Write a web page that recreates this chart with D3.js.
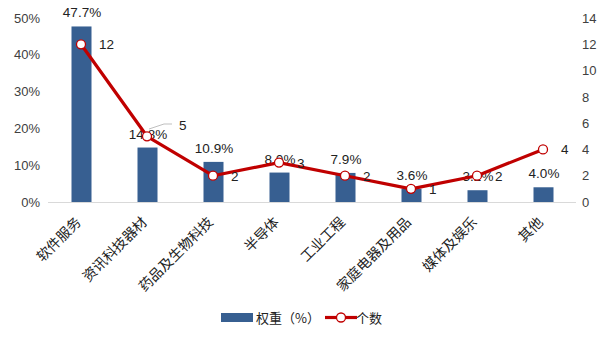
<!DOCTYPE html>
<html><head><meta charset="utf-8">
<script src="https://cdn.jsdelivr.net/npm/d3@7"></script>
<style>body{margin:0;background:#fff}svg{display:block}text{font-family:"Noto Sans CJK SC","Liberation Sans",sans-serif}</style>
</head><body><svg id="c" width="611" height="342"></svg>
<script>
const categories = ["软件服务","资讯科技器材","药品及生物科技","半导体","工业工程","家庭电器及用品","媒体及娱乐","其他"];
const weights = [47.7,14.8,10.9,8.0,7.9,3.6,3.2,4.0];
const counts = [12,5,2,3,2,1,2,4];
const leftTicks = [0,10,20,30,40,50];
const rightTicks = [0,2,4,6,8,10,12,14];

const svg = d3.select("#c");
const x = d3.scaleBand().domain(categories).range([48,576]).paddingInner(0).paddingOuter(0);
const yL = d3.scaleLinear().domain([0,50]).range([202,18]);
const yR = d3.scaleLinear().domain([0,14]).range([202,18]);
const numFont = "'Liberation Sans',Arial,sans-serif";

// left axis
const gl = svg.append("g").attr("transform","translate(44,0)")
  .call(d3.axisLeft(yL).tickValues(leftTicks).tickFormat(d=>d+"%").tickSize(0).tickPadding(4));
gl.select(".domain").remove();
gl.selectAll("text").attr("font-size",13).attr("fill","#404040").style("font-family",numFont);

const gr = svg.append("g").attr("transform","translate(578,0)")
  .call(d3.axisRight(yR).tickValues(rightTicks).tickSize(0).tickPadding(4));
gr.select(".domain").remove();
gr.selectAll("text").attr("font-size",13).attr("fill","#404040").style("font-family",numFont);

// baseline
svg.append("line").attr("x1",48).attr("x2",576).attr("y1",yL(0)+0.5).attr("y2",yL(0)+0.5).attr("stroke","#d9d9d9");

// bars
const bw = 20;
svg.selectAll("rect.bar").data(weights).join("rect").attr("class","bar")
  .attr("x",(d,i)=>x(categories[i])+x.bandwidth()/2-bw/2+0.5)
  .attr("width",bw).attr("y",d=>yL(d)).attr("height",d=>yL(0)-yL(d))
  .attr("fill","#375F91");

// bar labels
svg.selectAll("text.pl").data(weights).join("text").attr("class","pl")
  .attr("x",(d,i)=>x(categories[i])+x.bandwidth()/2+1)
  .attr("y",d=>yL(d)-9).attr("text-anchor","middle")
  .attr("font-size",13.5).attr("fill","#222").style("font-family",numFont)
  .text(d=>d.toFixed(1)+"%");

// leader line for "5"
svg.append("polyline").attr("points",[[149,129],[164,124],[172,124]].map(p=>p.join(",")).join(" "))
  .attr("fill","none").attr("stroke","#bfbfbf").attr("stroke-width",1);

// line
const cx = i=>x(categories[i])+x.bandwidth()/2;
svg.append("path").datum(counts)
  .attr("d",d3.line().x((d,i)=>cx(i)).y(d=>yR(d)))
  .attr("fill","none").attr("stroke","#C00000").attr("stroke-width",3.2).attr("stroke-linejoin","round");
svg.selectAll("circle.pt").data(counts).join("circle").attr("class","pt")
  .attr("cx",(d,i)=>cx(i)).attr("cy",d=>yR(d)).attr("r",4.5)
  .attr("fill","#fff").attr("stroke","#C00000").attr("stroke-width",1.3);

// count labels
const dx = [18,32,18,18,18,18,18,18], dy=[0,-11,0,0,0,0,0,0];
svg.selectAll("text.cl").data(counts).join("text").attr("class","cl")
  .attr("x",(d,i)=>cx(i)+dx[i]).attr("y",(d,i)=>yR(d)+dy[i]+5)
  .attr("font-size",13.5).attr("fill","#222").style("font-family",numFont)
  .text(d=>d);

// x labels
svg.selectAll("text.xl").data(categories).join("text").attr("class","xl")
  .attr("transform",(d,i)=>`translate(${cx(i)+1},${223}) rotate(-45)`)
  .attr("text-anchor","end").attr("font-size",14).attr("fill","#222")
  .text(d=>d);

// legend
const lg = svg.append("g");
lg.append("rect").attr("x",221).attr("y",313).attr("width",32).attr("height",9).attr("fill","#375F91");
lg.append("text").attr("x",256).attr("y",323).attr("font-size",13).attr("fill","#222").text("权重（%）");
lg.append("line").attr("x1",325).attr("x2",357).attr("y1",317.5).attr("y2",317.5).attr("stroke","#C00000").attr("stroke-width",3.2);
lg.append("circle").attr("cx",341).attr("cy",317.5).attr("r",4.5).attr("fill","#fff").attr("stroke","#C00000").attr("stroke-width",1.3);
lg.append("text").attr("x",356).attr("y",323).attr("font-size",13).attr("fill","#222").text("个数");
</script></body></html>
